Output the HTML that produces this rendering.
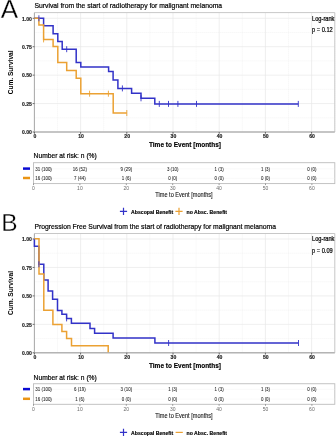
<!DOCTYPE html>
<html><head><meta charset="utf-8"><style>
html,body{margin:0;padding:0;background:#fff;}
body{width:336px;height:440px;overflow:hidden;}
svg{display:block;font-family:"Liberation Sans", sans-serif;will-change:transform;filter:blur(0.3px);}
</style></head><body>
<svg width="336" height="440" viewBox="0 0 336 440">
<rect width="336" height="440" fill="#fff"/>
<text x="0.7" y="18.2" font-size="26" font-weight="normal" text-anchor="start" fill="#000" stroke="#fff" stroke-width="0.3" >A</text>
<text x="0" y="0" transform="translate(34.5,8.3) scale(1,1.1)" font-size="6.8" font-weight="normal" text-anchor="start" fill="#000" stroke="#000" stroke-width="0.18" >Survival from the start of radiotherapy for malignant melanoma</text>
<line x1="34.4" y1="132.00" x2="334.8" y2="132.00" stroke="#e8e8e8" stroke-width="0.7"/>
<line x1="34.4" y1="117.79" x2="334.8" y2="117.79" stroke="#ececec" stroke-width="0.6" stroke-dasharray="1 1"/>
<line x1="34.4" y1="103.58" x2="334.8" y2="103.58" stroke="#e8e8e8" stroke-width="0.7"/>
<line x1="34.4" y1="89.36" x2="334.8" y2="89.36" stroke="#ececec" stroke-width="0.6" stroke-dasharray="1 1"/>
<line x1="34.4" y1="75.15" x2="334.8" y2="75.15" stroke="#e8e8e8" stroke-width="0.7"/>
<line x1="34.4" y1="60.94" x2="334.8" y2="60.94" stroke="#ececec" stroke-width="0.6" stroke-dasharray="1 1"/>
<line x1="34.4" y1="46.73" x2="334.8" y2="46.73" stroke="#e8e8e8" stroke-width="0.7"/>
<line x1="34.4" y1="32.51" x2="334.8" y2="32.51" stroke="#ececec" stroke-width="0.6" stroke-dasharray="1 1"/>
<line x1="34.4" y1="18.30" x2="334.8" y2="18.30" stroke="#e8e8e8" stroke-width="0.7"/>
<line x1="34.40" y1="12.6" x2="34.40" y2="132.0" stroke="#e8e8e8" stroke-width="0.7"/>
<line x1="57.50" y1="12.6" x2="57.50" y2="132.0" stroke="#ececec" stroke-width="0.6" stroke-dasharray="1 1"/>
<line x1="80.60" y1="12.6" x2="80.60" y2="132.0" stroke="#e8e8e8" stroke-width="0.7"/>
<line x1="103.70" y1="12.6" x2="103.70" y2="132.0" stroke="#ececec" stroke-width="0.6" stroke-dasharray="1 1"/>
<line x1="126.80" y1="12.6" x2="126.80" y2="132.0" stroke="#e8e8e8" stroke-width="0.7"/>
<line x1="149.90" y1="12.6" x2="149.90" y2="132.0" stroke="#ececec" stroke-width="0.6" stroke-dasharray="1 1"/>
<line x1="173.00" y1="12.6" x2="173.00" y2="132.0" stroke="#e8e8e8" stroke-width="0.7"/>
<line x1="196.10" y1="12.6" x2="196.10" y2="132.0" stroke="#ececec" stroke-width="0.6" stroke-dasharray="1 1"/>
<line x1="219.20" y1="12.6" x2="219.20" y2="132.0" stroke="#e8e8e8" stroke-width="0.7"/>
<line x1="242.30" y1="12.6" x2="242.30" y2="132.0" stroke="#ececec" stroke-width="0.6" stroke-dasharray="1 1"/>
<line x1="265.40" y1="12.6" x2="265.40" y2="132.0" stroke="#e8e8e8" stroke-width="0.7"/>
<line x1="288.50" y1="12.6" x2="288.50" y2="132.0" stroke="#ececec" stroke-width="0.6" stroke-dasharray="1 1"/>
<line x1="311.60" y1="12.6" x2="311.60" y2="132.0" stroke="#e8e8e8" stroke-width="0.7"/>
<line x1="334.70" y1="12.6" x2="334.70" y2="132.0" stroke="#ececec" stroke-width="0.6" stroke-dasharray="1 1"/>
<polyline points="34.4,12.6 334.8,12.6 334.8,132.0" fill="none" stroke="#c8c8c8" stroke-width="1"/>
<line x1="34.4" y1="12.6" x2="34.4" y2="132.0" stroke="#a8a8a8" stroke-width="1"/>
<line x1="34.4" y1="132.0" x2="334.8" y2="132.0" stroke="#b4b4b4" stroke-width="1.4"/>
<line x1="32.6" y1="18.30" x2="34.4" y2="18.30" stroke="#333" stroke-width="0.7"/>
<text x="31.9" y="20.50" font-size="5.1" font-weight="bold" text-anchor="end" fill="#222" stroke="#222" stroke-width="0.15" >1.00</text>
<line x1="32.6" y1="46.73" x2="34.4" y2="46.73" stroke="#333" stroke-width="0.7"/>
<text x="31.9" y="48.93" font-size="5.1" font-weight="bold" text-anchor="end" fill="#222" stroke="#222" stroke-width="0.15" >0.75</text>
<line x1="32.6" y1="75.15" x2="34.4" y2="75.15" stroke="#333" stroke-width="0.7"/>
<text x="31.9" y="77.35" font-size="5.1" font-weight="bold" text-anchor="end" fill="#222" stroke="#222" stroke-width="0.15" >0.50</text>
<line x1="32.6" y1="103.58" x2="34.4" y2="103.58" stroke="#333" stroke-width="0.7"/>
<text x="31.9" y="105.78" font-size="5.1" font-weight="bold" text-anchor="end" fill="#222" stroke="#222" stroke-width="0.15" >0.25</text>
<line x1="32.6" y1="132.00" x2="34.4" y2="132.00" stroke="#333" stroke-width="0.7"/>
<text x="31.9" y="134.20" font-size="5.1" font-weight="bold" text-anchor="end" fill="#222" stroke="#222" stroke-width="0.15" >0.00</text>
<line x1="34.40" y1="132.0" x2="34.40" y2="133.8" stroke="#333" stroke-width="0.7"/>
<text x="34.80" y="138.40" font-size="5.1" font-weight="bold" text-anchor="middle" fill="#222" stroke="#222" stroke-width="0.15" >0</text>
<line x1="80.60" y1="132.0" x2="80.60" y2="133.8" stroke="#333" stroke-width="0.7"/>
<text x="81.00" y="138.40" font-size="5.1" font-weight="bold" text-anchor="middle" fill="#222" stroke="#222" stroke-width="0.15" >10</text>
<line x1="126.80" y1="132.0" x2="126.80" y2="133.8" stroke="#333" stroke-width="0.7"/>
<text x="127.20" y="138.40" font-size="5.1" font-weight="bold" text-anchor="middle" fill="#222" stroke="#222" stroke-width="0.15" >20</text>
<line x1="173.00" y1="132.0" x2="173.00" y2="133.8" stroke="#333" stroke-width="0.7"/>
<text x="173.40" y="138.40" font-size="5.1" font-weight="bold" text-anchor="middle" fill="#222" stroke="#222" stroke-width="0.15" >30</text>
<line x1="219.20" y1="132.0" x2="219.20" y2="133.8" stroke="#333" stroke-width="0.7"/>
<text x="219.60" y="138.40" font-size="5.1" font-weight="bold" text-anchor="middle" fill="#222" stroke="#222" stroke-width="0.15" >40</text>
<line x1="265.40" y1="132.0" x2="265.40" y2="133.8" stroke="#333" stroke-width="0.7"/>
<text x="265.80" y="138.40" font-size="5.1" font-weight="bold" text-anchor="middle" fill="#222" stroke="#222" stroke-width="0.15" >50</text>
<line x1="311.60" y1="132.0" x2="311.60" y2="133.8" stroke="#333" stroke-width="0.7"/>
<text x="312.00" y="138.40" font-size="5.1" font-weight="bold" text-anchor="middle" fill="#222" stroke="#222" stroke-width="0.15" >60</text>
<text x="0" y="0" font-size="6.6" font-weight="bold" text-anchor="middle" transform="translate(13.4,72.4) rotate(-90) scale(1,1.1)">Cum. Survival</text>
<text x="0" y="0" transform="translate(185,147.0) scale(1,1.1)" font-size="6.5" font-weight="bold" text-anchor="middle" fill="#000" stroke="#000" stroke-width="0.15" >Time to Event [months]</text>
<text x="0" y="0" transform="translate(312,20.6) scale(1,1.1)" font-size="5.7" font-weight="normal" text-anchor="start" fill="#000" stroke="#000" stroke-width="0.18" >Log-rank</text>
<text x="0" y="0" transform="translate(312,32.3) scale(1,1.1)" font-size="5.7" font-weight="normal" text-anchor="start" fill="#000" stroke="#000" stroke-width="0.18" >p = 0.12</text>
<path d="M34.4,18.3 L43.6,18.3 L43.6,25.8 L53.1,25.8 L53.1,33.7 L57.8,33.7 L57.8,41.6 L62.2,41.6 L62.2,49.2 L76.2,49.2 L76.2,62.4 L80.8,62.4 L80.8,66.9 L108.6,66.9 L108.6,71.4 L113.1,71.4 L113.1,80.0 L117.9,80.0 L117.9,88.4 L131.6,88.4 L131.6,93.2 L141,93.2 L141,98.3 L154.8,98.3 L154.8,103.9 L298.3,103.9" fill="none" stroke="#3232c8" stroke-width="1.5" stroke-linejoin="miter"/>
<path d="M34.4,18.3 L38.9,18.3 L38.9,25.1 L43.6,25.1 L43.6,39.4 L53.1,39.4 L53.1,46.6 L57.8,46.6 L57.8,62.4 L66.7,62.4 L66.7,70.4 L76.2,70.4 L76.2,78.2 L80.8,78.2 L80.8,93.7 L113.2,93.7 L113.2,113.0 L126.8,113.0" fill="none" stroke="#eba133" stroke-width="1.5" stroke-linejoin="miter"/>
<line x1="38.9" y1="15.3" x2="38.9" y2="21.3" stroke="#3232c8" stroke-width="0.9"/>
<line x1="66.7" y1="46.2" x2="66.7" y2="52.2" stroke="#3232c8" stroke-width="0.9"/>
<line x1="122.4" y1="85.4" x2="122.4" y2="91.4" stroke="#3232c8" stroke-width="0.9"/>
<line x1="141" y1="95.3" x2="141" y2="101.3" stroke="#3232c8" stroke-width="0.9"/>
<line x1="159.3" y1="100.9" x2="159.3" y2="106.9" stroke="#3232c8" stroke-width="0.9"/>
<line x1="168.5" y1="100.9" x2="168.5" y2="106.9" stroke="#3232c8" stroke-width="0.9"/>
<line x1="177.9" y1="100.9" x2="177.9" y2="106.9" stroke="#3232c8" stroke-width="0.9"/>
<line x1="196.5" y1="100.9" x2="196.5" y2="106.9" stroke="#3232c8" stroke-width="0.9"/>
<line x1="298.3" y1="100.9" x2="298.3" y2="106.9" stroke="#3232c8" stroke-width="0.9"/>
<line x1="43.6" y1="36.4" x2="43.6" y2="42.4" stroke="#eba133" stroke-width="0.9"/>
<line x1="89.6" y1="90.7" x2="89.6" y2="96.7" stroke="#eba133" stroke-width="0.9"/>
<line x1="108.4" y1="90.7" x2="108.4" y2="96.7" stroke="#eba133" stroke-width="0.9"/>
<line x1="126.8" y1="110.0" x2="126.8" y2="116.0" stroke="#eba133" stroke-width="0.9"/>
<text x="0" y="0" transform="translate(33.6,158.1) scale(1,1.1)" font-size="6.7" font-weight="normal" text-anchor="start" fill="#000" stroke="#000" stroke-width="0.18" >Number at risk: n (%)</text>
<rect x="33.5" y="162.7" width="301.3" height="20.900000000000006" fill="none" stroke="#bdbdbd" stroke-width="0.9"/>
<line x1="33.5" y1="168.9" x2="334.8" y2="168.9" stroke="#ececec" stroke-width="0.6" stroke-dasharray="1 1"/>
<line x1="33.5" y1="178.3" x2="334.8" y2="178.3" stroke="#ececec" stroke-width="0.6" stroke-dasharray="1 1"/>
<line x1="23" y1="168.6" x2="30" y2="168.6" stroke="#0a0ad2" stroke-width="2.5"/>
<line x1="23" y1="178.0" x2="30" y2="178.0" stroke="#ea9414" stroke-width="2.5"/>
<text x="0" y="0" transform="translate(35.3,170.60) scale(1,1.12)" font-size="4.45" font-weight="normal" text-anchor="start" fill="#2a2a2a" stroke="#2a2a2a" stroke-width="0.06" >31 (100)</text>
<text x="0" y="0" transform="translate(79.90,170.60) scale(1,1.12)" font-size="4.45" font-weight="normal" text-anchor="middle" fill="#2a2a2a" stroke="#2a2a2a" stroke-width="0.06" >16 (52)</text>
<text x="0" y="0" transform="translate(126.30,170.60) scale(1,1.12)" font-size="4.45" font-weight="normal" text-anchor="middle" fill="#2a2a2a" stroke="#2a2a2a" stroke-width="0.06" >9 (29)</text>
<text x="0" y="0" transform="translate(172.70,170.60) scale(1,1.12)" font-size="4.45" font-weight="normal" text-anchor="middle" fill="#2a2a2a" stroke="#2a2a2a" stroke-width="0.06" >3 (10)</text>
<text x="0" y="0" transform="translate(219.10,170.60) scale(1,1.12)" font-size="4.45" font-weight="normal" text-anchor="middle" fill="#2a2a2a" stroke="#2a2a2a" stroke-width="0.06" >1 (3)</text>
<text x="0" y="0" transform="translate(265.50,170.60) scale(1,1.12)" font-size="4.45" font-weight="normal" text-anchor="middle" fill="#2a2a2a" stroke="#2a2a2a" stroke-width="0.06" >1 (3)</text>
<text x="0" y="0" transform="translate(311.90,170.60) scale(1,1.12)" font-size="4.45" font-weight="normal" text-anchor="middle" fill="#2a2a2a" stroke="#2a2a2a" stroke-width="0.06" >0 (0)</text>
<text x="0" y="0" transform="translate(35.3,180.00) scale(1,1.12)" font-size="4.45" font-weight="normal" text-anchor="start" fill="#2a2a2a" stroke="#2a2a2a" stroke-width="0.06" >16 (100)</text>
<text x="0" y="0" transform="translate(79.90,180.00) scale(1,1.12)" font-size="4.45" font-weight="normal" text-anchor="middle" fill="#2a2a2a" stroke="#2a2a2a" stroke-width="0.06" >7 (44)</text>
<text x="0" y="0" transform="translate(126.30,180.00) scale(1,1.12)" font-size="4.45" font-weight="normal" text-anchor="middle" fill="#2a2a2a" stroke="#2a2a2a" stroke-width="0.06" >1 (6)</text>
<text x="0" y="0" transform="translate(172.70,180.00) scale(1,1.12)" font-size="4.45" font-weight="normal" text-anchor="middle" fill="#2a2a2a" stroke="#2a2a2a" stroke-width="0.06" >0 (0)</text>
<text x="0" y="0" transform="translate(219.10,180.00) scale(1,1.12)" font-size="4.45" font-weight="normal" text-anchor="middle" fill="#2a2a2a" stroke="#2a2a2a" stroke-width="0.06" >0 (0)</text>
<text x="0" y="0" transform="translate(265.50,180.00) scale(1,1.12)" font-size="4.45" font-weight="normal" text-anchor="middle" fill="#2a2a2a" stroke="#2a2a2a" stroke-width="0.06" >0 (0)</text>
<text x="0" y="0" transform="translate(311.90,180.00) scale(1,1.12)" font-size="4.45" font-weight="normal" text-anchor="middle" fill="#2a2a2a" stroke="#2a2a2a" stroke-width="0.06" >0 (0)</text>
<line x1="33.50" y1="183.6" x2="33.50" y2="185.1" stroke="#555" stroke-width="0.6"/>
<text x="33.50" y="189.60" font-size="5.0" font-weight="normal" text-anchor="middle" fill="#6a6a6a" >0</text>
<line x1="79.90" y1="183.6" x2="79.90" y2="185.1" stroke="#555" stroke-width="0.6"/>
<text x="79.90" y="189.60" font-size="5.0" font-weight="normal" text-anchor="middle" fill="#6a6a6a" >10</text>
<line x1="126.30" y1="183.6" x2="126.30" y2="185.1" stroke="#555" stroke-width="0.6"/>
<text x="126.30" y="189.60" font-size="5.0" font-weight="normal" text-anchor="middle" fill="#6a6a6a" >20</text>
<line x1="172.70" y1="183.6" x2="172.70" y2="185.1" stroke="#555" stroke-width="0.6"/>
<text x="172.70" y="189.60" font-size="5.0" font-weight="normal" text-anchor="middle" fill="#6a6a6a" >30</text>
<line x1="219.10" y1="183.6" x2="219.10" y2="185.1" stroke="#555" stroke-width="0.6"/>
<text x="219.10" y="189.60" font-size="5.0" font-weight="normal" text-anchor="middle" fill="#6a6a6a" >40</text>
<line x1="265.50" y1="183.6" x2="265.50" y2="185.1" stroke="#555" stroke-width="0.6"/>
<text x="265.50" y="189.60" font-size="5.0" font-weight="normal" text-anchor="middle" fill="#6a6a6a" >50</text>
<line x1="311.90" y1="183.6" x2="311.90" y2="185.1" stroke="#555" stroke-width="0.6"/>
<text x="311.90" y="189.60" font-size="5.0" font-weight="normal" text-anchor="middle" fill="#6a6a6a" >60</text>
<text x="0" y="0" transform="translate(184,196.70) scale(1,1.14)" font-size="5.6" font-weight="normal" text-anchor="middle" fill="#1a1a1a" stroke="#1a1a1a" stroke-width="0.1" >Time to Event [months]</text>
<path d="M119.9,211.3 H127.1 M123.5,207.70000000000002 V214.9" stroke="#3232c8" stroke-width="1.2" fill="none"/>
<text x="0" y="0" transform="translate(131.1,213.50) scale(1,1.1)" font-size="5.15" font-weight="bold" text-anchor="start" fill="#000" stroke="#000" stroke-width="0.15" >Abscopal Benefit</text>
<path d="M175.4,211.3 H182.6 M179,207.70000000000002 V214.9" stroke="#eba133" stroke-width="1.2" fill="none"/>
<text x="0" y="0" transform="translate(186.6,213.50) scale(1,1.1)" font-size="5.15" font-weight="bold" text-anchor="start" fill="#000" stroke="#000" stroke-width="0.15" >no Absc. Benefit</text>
<text x="1.3" y="230.7" font-size="24.5" font-weight="normal" text-anchor="start" fill="#000" stroke="#fff" stroke-width="0.3" >B</text>
<text x="0" y="0" transform="translate(34.5,229.1) scale(1,1.1)" font-size="6.8" font-weight="normal" text-anchor="start" fill="#000" stroke="#000" stroke-width="0.18" >Progression Free Survival from the start of radiotherapy for malignant melanoma</text>
<line x1="34.4" y1="352.80" x2="334.8" y2="352.80" stroke="#e8e8e8" stroke-width="0.7"/>
<line x1="34.4" y1="338.58" x2="334.8" y2="338.58" stroke="#ececec" stroke-width="0.6" stroke-dasharray="1 1"/>
<line x1="34.4" y1="324.35" x2="334.8" y2="324.35" stroke="#e8e8e8" stroke-width="0.7"/>
<line x1="34.4" y1="310.12" x2="334.8" y2="310.12" stroke="#ececec" stroke-width="0.6" stroke-dasharray="1 1"/>
<line x1="34.4" y1="295.90" x2="334.8" y2="295.90" stroke="#e8e8e8" stroke-width="0.7"/>
<line x1="34.4" y1="281.68" x2="334.8" y2="281.68" stroke="#ececec" stroke-width="0.6" stroke-dasharray="1 1"/>
<line x1="34.4" y1="267.45" x2="334.8" y2="267.45" stroke="#e8e8e8" stroke-width="0.7"/>
<line x1="34.4" y1="253.22" x2="334.8" y2="253.22" stroke="#ececec" stroke-width="0.6" stroke-dasharray="1 1"/>
<line x1="34.4" y1="239.00" x2="334.8" y2="239.00" stroke="#e8e8e8" stroke-width="0.7"/>
<line x1="34.40" y1="233.5" x2="34.40" y2="352.8" stroke="#e8e8e8" stroke-width="0.7"/>
<line x1="57.50" y1="233.5" x2="57.50" y2="352.8" stroke="#ececec" stroke-width="0.6" stroke-dasharray="1 1"/>
<line x1="80.60" y1="233.5" x2="80.60" y2="352.8" stroke="#e8e8e8" stroke-width="0.7"/>
<line x1="103.70" y1="233.5" x2="103.70" y2="352.8" stroke="#ececec" stroke-width="0.6" stroke-dasharray="1 1"/>
<line x1="126.80" y1="233.5" x2="126.80" y2="352.8" stroke="#e8e8e8" stroke-width="0.7"/>
<line x1="149.90" y1="233.5" x2="149.90" y2="352.8" stroke="#ececec" stroke-width="0.6" stroke-dasharray="1 1"/>
<line x1="173.00" y1="233.5" x2="173.00" y2="352.8" stroke="#e8e8e8" stroke-width="0.7"/>
<line x1="196.10" y1="233.5" x2="196.10" y2="352.8" stroke="#ececec" stroke-width="0.6" stroke-dasharray="1 1"/>
<line x1="219.20" y1="233.5" x2="219.20" y2="352.8" stroke="#e8e8e8" stroke-width="0.7"/>
<line x1="242.30" y1="233.5" x2="242.30" y2="352.8" stroke="#ececec" stroke-width="0.6" stroke-dasharray="1 1"/>
<line x1="265.40" y1="233.5" x2="265.40" y2="352.8" stroke="#e8e8e8" stroke-width="0.7"/>
<line x1="288.50" y1="233.5" x2="288.50" y2="352.8" stroke="#ececec" stroke-width="0.6" stroke-dasharray="1 1"/>
<line x1="311.60" y1="233.5" x2="311.60" y2="352.8" stroke="#e8e8e8" stroke-width="0.7"/>
<line x1="334.70" y1="233.5" x2="334.70" y2="352.8" stroke="#ececec" stroke-width="0.6" stroke-dasharray="1 1"/>
<polyline points="34.4,233.5 334.8,233.5 334.8,352.8" fill="none" stroke="#c8c8c8" stroke-width="1"/>
<line x1="34.4" y1="233.5" x2="34.4" y2="352.8" stroke="#a8a8a8" stroke-width="1"/>
<line x1="34.4" y1="352.8" x2="334.8" y2="352.8" stroke="#b4b4b4" stroke-width="1.4"/>
<line x1="32.6" y1="239.00" x2="34.4" y2="239.00" stroke="#333" stroke-width="0.7"/>
<text x="31.9" y="241.20" font-size="5.1" font-weight="bold" text-anchor="end" fill="#222" stroke="#222" stroke-width="0.15" >1.00</text>
<line x1="32.6" y1="267.45" x2="34.4" y2="267.45" stroke="#333" stroke-width="0.7"/>
<text x="31.9" y="269.65" font-size="5.1" font-weight="bold" text-anchor="end" fill="#222" stroke="#222" stroke-width="0.15" >0.75</text>
<line x1="32.6" y1="295.90" x2="34.4" y2="295.90" stroke="#333" stroke-width="0.7"/>
<text x="31.9" y="298.10" font-size="5.1" font-weight="bold" text-anchor="end" fill="#222" stroke="#222" stroke-width="0.15" >0.50</text>
<line x1="32.6" y1="324.35" x2="34.4" y2="324.35" stroke="#333" stroke-width="0.7"/>
<text x="31.9" y="326.55" font-size="5.1" font-weight="bold" text-anchor="end" fill="#222" stroke="#222" stroke-width="0.15" >0.25</text>
<line x1="32.6" y1="352.80" x2="34.4" y2="352.80" stroke="#333" stroke-width="0.7"/>
<text x="31.9" y="355.00" font-size="5.1" font-weight="bold" text-anchor="end" fill="#222" stroke="#222" stroke-width="0.15" >0.00</text>
<line x1="34.40" y1="352.8" x2="34.40" y2="354.6" stroke="#333" stroke-width="0.7"/>
<text x="34.80" y="359.20" font-size="5.1" font-weight="bold" text-anchor="middle" fill="#222" stroke="#222" stroke-width="0.15" >0</text>
<line x1="80.60" y1="352.8" x2="80.60" y2="354.6" stroke="#333" stroke-width="0.7"/>
<text x="81.00" y="359.20" font-size="5.1" font-weight="bold" text-anchor="middle" fill="#222" stroke="#222" stroke-width="0.15" >10</text>
<line x1="126.80" y1="352.8" x2="126.80" y2="354.6" stroke="#333" stroke-width="0.7"/>
<text x="127.20" y="359.20" font-size="5.1" font-weight="bold" text-anchor="middle" fill="#222" stroke="#222" stroke-width="0.15" >20</text>
<line x1="173.00" y1="352.8" x2="173.00" y2="354.6" stroke="#333" stroke-width="0.7"/>
<text x="173.40" y="359.20" font-size="5.1" font-weight="bold" text-anchor="middle" fill="#222" stroke="#222" stroke-width="0.15" >30</text>
<line x1="219.20" y1="352.8" x2="219.20" y2="354.6" stroke="#333" stroke-width="0.7"/>
<text x="219.60" y="359.20" font-size="5.1" font-weight="bold" text-anchor="middle" fill="#222" stroke="#222" stroke-width="0.15" >40</text>
<line x1="265.40" y1="352.8" x2="265.40" y2="354.6" stroke="#333" stroke-width="0.7"/>
<text x="265.80" y="359.20" font-size="5.1" font-weight="bold" text-anchor="middle" fill="#222" stroke="#222" stroke-width="0.15" >50</text>
<line x1="311.60" y1="352.8" x2="311.60" y2="354.6" stroke="#333" stroke-width="0.7"/>
<text x="312.00" y="359.20" font-size="5.1" font-weight="bold" text-anchor="middle" fill="#222" stroke="#222" stroke-width="0.15" >60</text>
<text x="0" y="0" font-size="6.6" font-weight="bold" text-anchor="middle" transform="translate(13.4,293.0) rotate(-90) scale(1,1.1)">Cum. Survival</text>
<text x="0" y="0" transform="translate(185,367.5) scale(1,1.1)" font-size="6.5" font-weight="bold" text-anchor="middle" fill="#000" stroke="#000" stroke-width="0.15" >Time to Event [months]</text>
<text x="0" y="0" transform="translate(312,241.0) scale(1,1.1)" font-size="5.7" font-weight="normal" text-anchor="start" fill="#000" stroke="#000" stroke-width="0.18" >Log-rank</text>
<text x="0" y="0" transform="translate(312,252.6) scale(1,1.1)" font-size="5.7" font-weight="normal" text-anchor="start" fill="#000" stroke="#000" stroke-width="0.18" >p = 0.09</text>
<path d="M34.4,238.8 L34.4,246.2 L38.9,246.2 L38.9,264.3 L43.8,264.3 L43.8,280.0 L48.1,280.0 L48.1,291.1 L52.6,291.1 L52.6,299.3 L57.5,299.3 L57.5,310.5 L61.9,310.5 L61.9,314.3 L66.6,314.3 L66.6,318.4 L71.4,318.4 L71.4,323.3 L90.0,323.3 L90.0,328.4 L94.6,328.4 L94.6,333.2 L113.1,333.2 L113.1,338.1 L154.9,338.1 L154.9,343.0 L298.5,343.0" fill="none" stroke="#3232c8" stroke-width="1.5" stroke-linejoin="miter"/>
<path d="M34.4,238.8 L39.0,238.8 L39.0,274.0 L43.8,274.0 L43.8,310.2 L52.9,310.2 L52.9,324.4 L61.9,324.4 L61.9,331.4 L66.6,331.4 L66.6,338.6 L71.5,338.6 L71.5,345.8 L108.2,345.8 L108.2,352.2" fill="none" stroke="#eba133" stroke-width="1.5" stroke-linejoin="miter"/>
<line x1="38.9" y1="261.3" x2="38.9" y2="267.3" stroke="#3232c8" stroke-width="0.9"/>
<line x1="66.6" y1="315.4" x2="66.6" y2="321.4" stroke="#3232c8" stroke-width="0.9"/>
<line x1="168.6" y1="340.0" x2="168.6" y2="346.0" stroke="#3232c8" stroke-width="0.9"/>
<line x1="298.5" y1="340.0" x2="298.5" y2="346.0" stroke="#3232c8" stroke-width="0.9"/>
<text x="0" y="0" transform="translate(33.6,379.6) scale(1,1.1)" font-size="6.7" font-weight="normal" text-anchor="start" fill="#000" stroke="#000" stroke-width="0.18" >Number at risk: n (%)</text>
<rect x="33.5" y="383.75" width="301.3" height="20.55000000000001" fill="none" stroke="#bdbdbd" stroke-width="0.9"/>
<line x1="33.5" y1="389.4" x2="334.8" y2="389.4" stroke="#ececec" stroke-width="0.6" stroke-dasharray="1 1"/>
<line x1="33.5" y1="399.1" x2="334.8" y2="399.1" stroke="#ececec" stroke-width="0.6" stroke-dasharray="1 1"/>
<line x1="23" y1="389.09999999999997" x2="30" y2="389.09999999999997" stroke="#0a0ad2" stroke-width="2.5"/>
<line x1="23" y1="398.8" x2="30" y2="398.8" stroke="#ea9414" stroke-width="2.5"/>
<text x="0" y="0" transform="translate(35.3,391.10) scale(1,1.12)" font-size="4.45" font-weight="normal" text-anchor="start" fill="#2a2a2a" stroke="#2a2a2a" stroke-width="0.06" >31 (100)</text>
<text x="0" y="0" transform="translate(79.90,391.10) scale(1,1.12)" font-size="4.45" font-weight="normal" text-anchor="middle" fill="#2a2a2a" stroke="#2a2a2a" stroke-width="0.06" >6 (19)</text>
<text x="0" y="0" transform="translate(126.30,391.10) scale(1,1.12)" font-size="4.45" font-weight="normal" text-anchor="middle" fill="#2a2a2a" stroke="#2a2a2a" stroke-width="0.06" >3 (10)</text>
<text x="0" y="0" transform="translate(172.70,391.10) scale(1,1.12)" font-size="4.45" font-weight="normal" text-anchor="middle" fill="#2a2a2a" stroke="#2a2a2a" stroke-width="0.06" >1 (3)</text>
<text x="0" y="0" transform="translate(219.10,391.10) scale(1,1.12)" font-size="4.45" font-weight="normal" text-anchor="middle" fill="#2a2a2a" stroke="#2a2a2a" stroke-width="0.06" >1 (3)</text>
<text x="0" y="0" transform="translate(265.50,391.10) scale(1,1.12)" font-size="4.45" font-weight="normal" text-anchor="middle" fill="#2a2a2a" stroke="#2a2a2a" stroke-width="0.06" >1 (3)</text>
<text x="0" y="0" transform="translate(311.90,391.10) scale(1,1.12)" font-size="4.45" font-weight="normal" text-anchor="middle" fill="#2a2a2a" stroke="#2a2a2a" stroke-width="0.06" >0 (0)</text>
<text x="0" y="0" transform="translate(35.3,400.80) scale(1,1.12)" font-size="4.45" font-weight="normal" text-anchor="start" fill="#2a2a2a" stroke="#2a2a2a" stroke-width="0.06" >16 (100)</text>
<text x="0" y="0" transform="translate(79.90,400.80) scale(1,1.12)" font-size="4.45" font-weight="normal" text-anchor="middle" fill="#2a2a2a" stroke="#2a2a2a" stroke-width="0.06" >1 (6)</text>
<text x="0" y="0" transform="translate(126.30,400.80) scale(1,1.12)" font-size="4.45" font-weight="normal" text-anchor="middle" fill="#2a2a2a" stroke="#2a2a2a" stroke-width="0.06" >0 (0)</text>
<text x="0" y="0" transform="translate(172.70,400.80) scale(1,1.12)" font-size="4.45" font-weight="normal" text-anchor="middle" fill="#2a2a2a" stroke="#2a2a2a" stroke-width="0.06" >0 (0)</text>
<text x="0" y="0" transform="translate(219.10,400.80) scale(1,1.12)" font-size="4.45" font-weight="normal" text-anchor="middle" fill="#2a2a2a" stroke="#2a2a2a" stroke-width="0.06" >0 (0)</text>
<text x="0" y="0" transform="translate(265.50,400.80) scale(1,1.12)" font-size="4.45" font-weight="normal" text-anchor="middle" fill="#2a2a2a" stroke="#2a2a2a" stroke-width="0.06" >0 (0)</text>
<text x="0" y="0" transform="translate(311.90,400.80) scale(1,1.12)" font-size="4.45" font-weight="normal" text-anchor="middle" fill="#2a2a2a" stroke="#2a2a2a" stroke-width="0.06" >0 (0)</text>
<line x1="33.50" y1="404.3" x2="33.50" y2="405.8" stroke="#555" stroke-width="0.6"/>
<text x="33.50" y="410.70" font-size="5.0" font-weight="normal" text-anchor="middle" fill="#6a6a6a" >0</text>
<line x1="79.90" y1="404.3" x2="79.90" y2="405.8" stroke="#555" stroke-width="0.6"/>
<text x="79.90" y="410.70" font-size="5.0" font-weight="normal" text-anchor="middle" fill="#6a6a6a" >10</text>
<line x1="126.30" y1="404.3" x2="126.30" y2="405.8" stroke="#555" stroke-width="0.6"/>
<text x="126.30" y="410.70" font-size="5.0" font-weight="normal" text-anchor="middle" fill="#6a6a6a" >20</text>
<line x1="172.70" y1="404.3" x2="172.70" y2="405.8" stroke="#555" stroke-width="0.6"/>
<text x="172.70" y="410.70" font-size="5.0" font-weight="normal" text-anchor="middle" fill="#6a6a6a" >30</text>
<line x1="219.10" y1="404.3" x2="219.10" y2="405.8" stroke="#555" stroke-width="0.6"/>
<text x="219.10" y="410.70" font-size="5.0" font-weight="normal" text-anchor="middle" fill="#6a6a6a" >40</text>
<line x1="265.50" y1="404.3" x2="265.50" y2="405.8" stroke="#555" stroke-width="0.6"/>
<text x="265.50" y="410.70" font-size="5.0" font-weight="normal" text-anchor="middle" fill="#6a6a6a" >50</text>
<line x1="311.90" y1="404.3" x2="311.90" y2="405.8" stroke="#555" stroke-width="0.6"/>
<text x="311.90" y="410.70" font-size="5.0" font-weight="normal" text-anchor="middle" fill="#6a6a6a" >60</text>
<text x="0" y="0" transform="translate(184,417.90) scale(1,1.14)" font-size="5.6" font-weight="normal" text-anchor="middle" fill="#1a1a1a" stroke="#1a1a1a" stroke-width="0.1" >Time to Event [months]</text>
<path d="M119.9,432.4 H127.1 M123.5,428.79999999999995 V436.0" stroke="#3232c8" stroke-width="1.2" fill="none"/>
<text x="0" y="0" transform="translate(131.1,434.60) scale(1,1.1)" font-size="5.15" font-weight="bold" text-anchor="start" fill="#000" stroke="#000" stroke-width="0.15" >Abscopal Benefit</text>
<path d="M175.6,432.4 H182.8" stroke="#eba133" stroke-width="1.2" fill="none"/>
<text x="0" y="0" transform="translate(186.6,434.60) scale(1,1.1)" font-size="5.15" font-weight="bold" text-anchor="start" fill="#000" stroke="#000" stroke-width="0.15" >no Absc. Benefit</text>
</svg></body></html>
